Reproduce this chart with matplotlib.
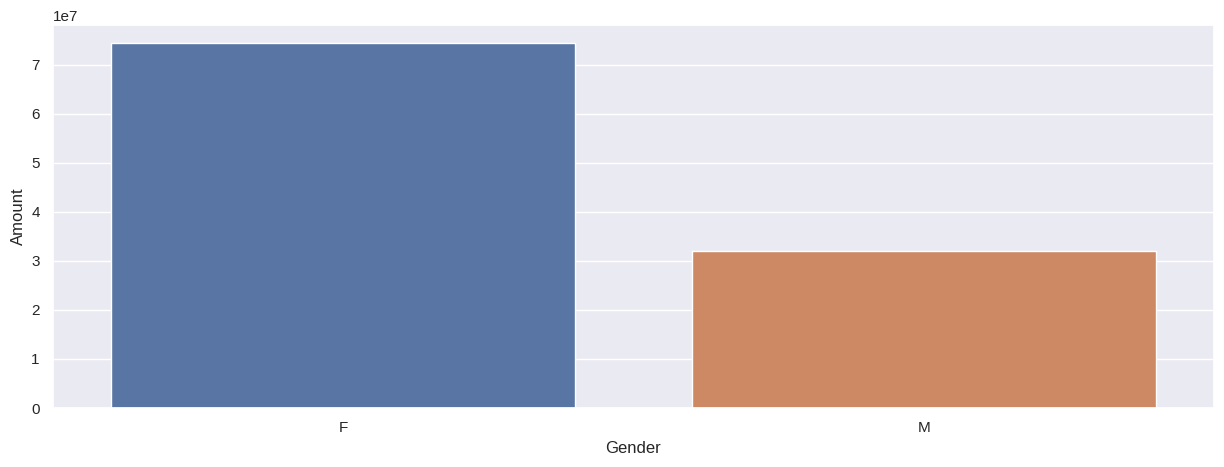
import matplotlib
matplotlib.use("Agg")
import matplotlib.pyplot as plt
import seaborn as sns
import pandas as pd

# total sales amount by gender
gender = ["F", "M"]
amount = [74335853, 31913276]

sns.set_theme(style="darkgrid")
plt.rcParams['font.family'] = ['Liberation Sans', 'DejaVu Sans']

df = pd.DataFrame({"Gender": gender, "Amount": amount})

fig = plt.figure(figsize=(12.24, 4.67), dpi=100)
ax = fig.add_axes([0.0433, 0.1263, 0.9485, 0.820])
sns.barplot(data=df, x="Gender", y="Amount", hue="Gender",
            palette="deep", saturation=0.75, legend=False, ax=ax)

fig.savefig("out.png", dpi=100)
